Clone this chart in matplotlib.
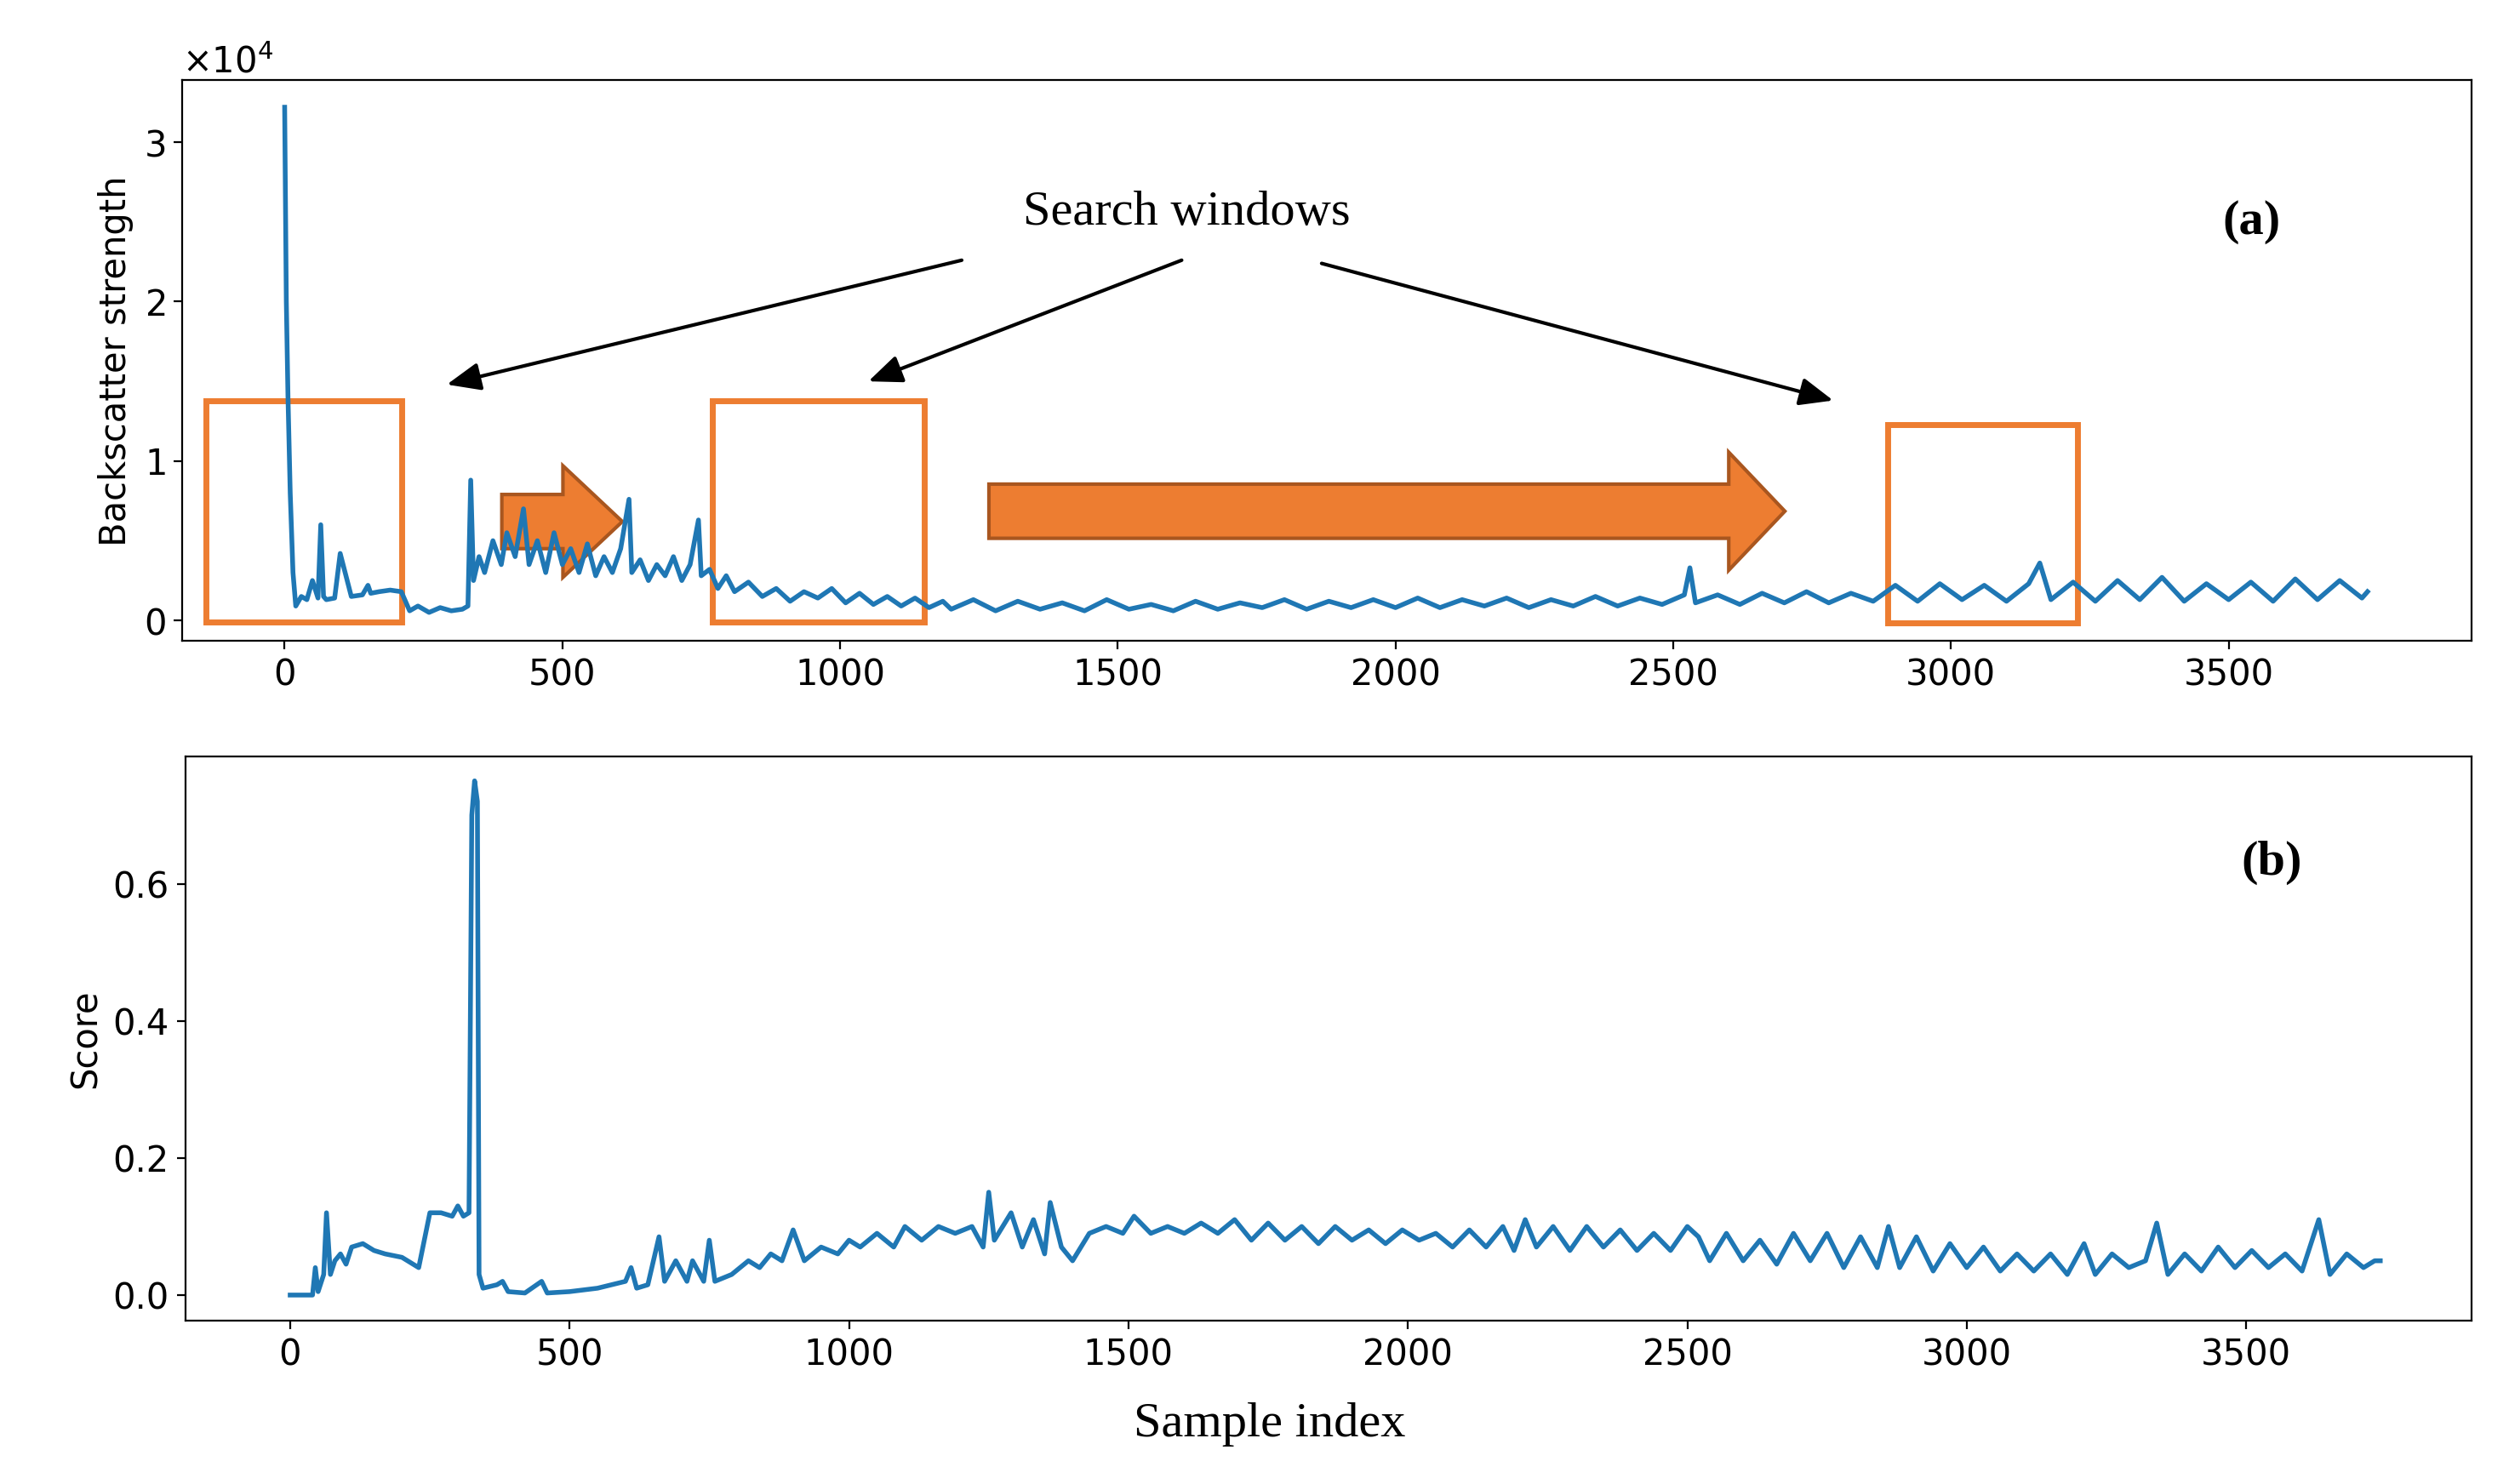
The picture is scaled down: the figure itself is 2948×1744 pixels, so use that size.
import matplotlib.pyplot as plt
from matplotlib.patches import Rectangle, FancyArrow

# backscatter strength (panel a)
bs_x = [0, 3, 6, 10, 15, 20, 30, 40, 50, 60, 65, 70, 75, 90, 100, 120, 140, 150, 155, 170, 190, 210,
        225, 240, 260, 280, 300, 320, 330,
        335, 340, 350, 360, 375, 390, 400, 415, 430, 440, 455, 470, 485, 500, 515, 530, 545, 560, 575,
        590, 605, 620, 625, 640, 655, 670, 685, 700, 715, 730, 745, 750, 765, 780, 795, 810,
        835, 860, 885, 910, 935, 960, 985, 1010, 1035, 1060, 1085, 1110, 1135, 1160, 1185,
        1200, 1240, 1280, 1320, 1360, 1400, 1440, 1480, 1520, 1560, 1600, 1640, 1680, 1720, 1760,
        1800, 1840, 1880, 1920, 1960, 2000,
        2040, 2080, 2120, 2160, 2200, 2240, 2280, 2320, 2360, 2400, 2440, 2480, 2520, 2530, 2540,
        2580, 2620, 2660, 2700, 2740, 2780, 2820, 2860, 2900, 2940, 2980, 3020, 3060, 3100, 3140,
        3160, 3180, 3220, 3260, 3300, 3340, 3380, 3420, 3460, 3500, 3540, 3580, 3620, 3660, 3700,
        3740, 3750]
bs_y = [32200, 20000, 14000, 8000, 3000, 900, 1500, 1300, 2500, 1400, 6000, 1500, 1300, 1400, 4200,
        1500, 1600, 2200, 1700, 1800, 1900, 1800,
        600, 900, 500, 800, 600, 700, 900,
        8800, 2500, 4000, 3000, 5000, 3500, 5500, 4000, 7000, 3500, 5000, 3000, 5500, 3500, 4500,
        3000, 4800, 2800, 4000, 3000, 4500, 7600, 3000, 3800, 2500, 3500, 2800, 4000, 2500, 3500,
        6300, 2800, 3200, 2000, 2800, 1800,
        2400, 1500, 2000, 1200, 1800, 1400, 2000, 1100, 1700, 1000, 1500, 900, 1400, 800, 1200,
        700, 1300, 600, 1200, 700, 1100, 600, 1300, 700, 1000, 600, 1200, 700, 1100, 800,
        1300, 700, 1200, 800, 1300, 800,
        1400, 800, 1300, 900, 1400, 800, 1300, 900, 1500, 900, 1400, 1000, 1600, 3300, 1100,
        1600, 1000, 1700, 1100, 1800, 1100, 1700, 1200, 2200, 1200, 2300, 1300, 2200, 1200, 2300,
        3600, 1300, 2400, 1200, 2500, 1300, 2700, 1200, 2300, 1300, 2400, 1200, 2600, 1300, 2500,
        1400, 1800]

# score (panel b)
sc_x = [0, 40, 45, 50, 60, 65, 72, 80, 90, 100, 110, 130, 150, 170, 200, 230, 240, 250, 270, 290,
        300, 310, 320, 325, 330, 335, 338, 345, 370, 380, 390, 420, 450, 460, 500, 550, 600, 610,
        620, 640, 660, 670, 690, 710, 720, 740, 750, 760, 790, 820, 840, 860, 880, 900, 920, 950,
        980, 1000, 1020, 1050, 1080, 1100, 1130, 1160, 1190, 1220, 1240, 1250, 1260, 1290, 1310,
        1330, 1350, 1360, 1380, 1400, 1430, 1460, 1490, 1510, 1540, 1570, 1600, 1630, 1660, 1690,
        1720, 1750, 1780, 1810, 1840, 1870, 1900, 1930, 1960, 1990, 2020, 2050, 2080, 2110, 2140,
        2170, 2190, 2210, 2230, 2260, 2290, 2320, 2350, 2380, 2410, 2440, 2470, 2500, 2520, 2540,
        2570, 2600, 2630, 2660, 2690, 2720, 2750, 2780, 2810, 2840, 2860, 2880, 2910, 2940, 2970,
        3000, 3030, 3060, 3090, 3120, 3150, 3180, 3210, 3230, 3260, 3290, 3320, 3340, 3360, 3390,
        3420, 3450, 3480, 3510, 3540, 3570, 3600, 3630, 3650, 3680, 3710, 3730, 3740]
sc_y = [0, 0, 0.04, 0.005, 0.03, 0.12, 0.03, 0.05, 0.06, 0.045, 0.07, 0.075, 0.065, 0.06, 0.055,
        0.04, 0.08, 0.12, 0.12, 0.115, 0.13, 0.115, 0.12, 0.7, 0.75, 0.72, 0.03, 0.01, 0.015, 0.02,
        0.005, 0.003, 0.02, 0.003, 0.005, 0.01, 0.02, 0.04, 0.01, 0.015, 0.085, 0.02, 0.05, 0.02,
        0.05, 0.02, 0.08, 0.02, 0.03, 0.05, 0.04, 0.06, 0.05, 0.095, 0.05, 0.07, 0.06, 0.08, 0.07,
        0.09, 0.07, 0.1, 0.08, 0.1, 0.09, 0.1, 0.07, 0.15, 0.08, 0.12, 0.07, 0.11, 0.06, 0.135,
        0.07, 0.05, 0.09, 0.1, 0.09, 0.115, 0.09, 0.1, 0.09, 0.105, 0.09, 0.11, 0.08, 0.105, 0.08,
        0.1, 0.075, 0.1, 0.08, 0.095, 0.075, 0.095, 0.08, 0.09, 0.07, 0.095, 0.07, 0.1, 0.065, 0.11,
        0.07, 0.1, 0.065, 0.1, 0.07, 0.095, 0.065, 0.09, 0.065, 0.1, 0.085, 0.05, 0.09, 0.05, 0.08,
        0.045, 0.09, 0.05, 0.09, 0.04, 0.085, 0.04, 0.1, 0.04, 0.085, 0.035, 0.075, 0.04, 0.07,
        0.035, 0.06, 0.035, 0.06, 0.03, 0.075, 0.03, 0.06, 0.04, 0.05, 0.105, 0.03, 0.06, 0.035,
        0.07, 0.04, 0.065, 0.04, 0.06, 0.035, 0.11, 0.03, 0.06, 0.04, 0.05, 0.05]

# search windows (x0, x1, y0, y1)
windows = [(-142, 211, -100, 13800), (770, 1152, -100, 13800), (2886, 3228, -150, 12300)]

BLUE = '#1f77b4'
ORANGE = '#ED7D31'
SERIF = 'Liberation Serif'
FS = 15

fig = plt.figure(figsize=(14.74, 8.72), dpi=200)
ax1 = fig.add_axes([0.0725, 0.568, 0.9125, 0.378])
ax2 = fig.add_axes([0.074, 0.11, 0.911, 0.38])

ax1.plot(bs_x, bs_y, color=BLUE, lw=2)
ax1.set_xlim(-185, 3937)
ax1.set_ylim(-1300, 33900)
ax1.set_yticks([0, 10000, 20000, 30000])
ax1.ticklabel_format(axis='y', style='sci', scilimits=(0, 0), useMathText=True)
ax1.set_ylabel('Backscatter strength', fontsize=FS)
ax1.tick_params(labelsize=FS)
ax1.yaxis.get_offset_text().set_fontsize(FS)

for x0, x1, y0, y1 in windows:
    ax1.add_patch(Rectangle((x0, y0), x1 - x0, y1 - y0, fill=False, ec=ORANGE, lw=2.5))

# block arrows showing window movement
ax1.add_patch(FancyArrow(391, 6200, 217, 0, width=3400, head_width=7000, head_length=107,
                         length_includes_head=True, fc=ORANGE, ec='#A9561F', lw=1.5))
ax1.add_patch(FancyArrow(1268, 6850, 1433, 0, width=3400, head_width=7400, head_length=101,
                         length_includes_head=True, fc=ORANGE, ec='#A9561F', lw=1.5))

ax1.text(1624, 25600, 'Search windows', fontsize=21, family=SERIF, ha='center', va='center')
for (sx, sy), (ex, ey) in [((1219, 22600), (292, 14800)), ((1615, 22600), (1051, 15000)),
                           ((1867, 22400), (2788, 13800))]:
    ax1.annotate('', xy=(ex, ey), xytext=(sx, sy),
                 arrowprops=dict(arrowstyle='-|>,head_length=1.2,head_width=0.5', color='black',
                                 lw=1.5, shrinkA=0, shrinkB=0))
ax1.text(3541, 25000, '(a)', fontsize=21, family=SERIF, weight='bold', ha='center', va='center')

ax2.plot(sc_x, sc_y, color=BLUE, lw=2)
ax2.set_xlim(-187, 3903)
ax2.set_ylim(-0.0375, 0.785)
ax2.set_yticks([0.0, 0.2, 0.4, 0.6])
ax2.set_ylabel('Score', fontsize=FS)
ax2.tick_params(labelsize=FS)
ax2.text(3546, 0.63, '(b)', fontsize=21, family=SERIF, weight='bold', ha='center', va='center')

fig.text(0.506, 0.04, 'Sample index', fontsize=21, family=SERIF, ha='center', va='center')

fig.savefig('out.png', dpi=200)
